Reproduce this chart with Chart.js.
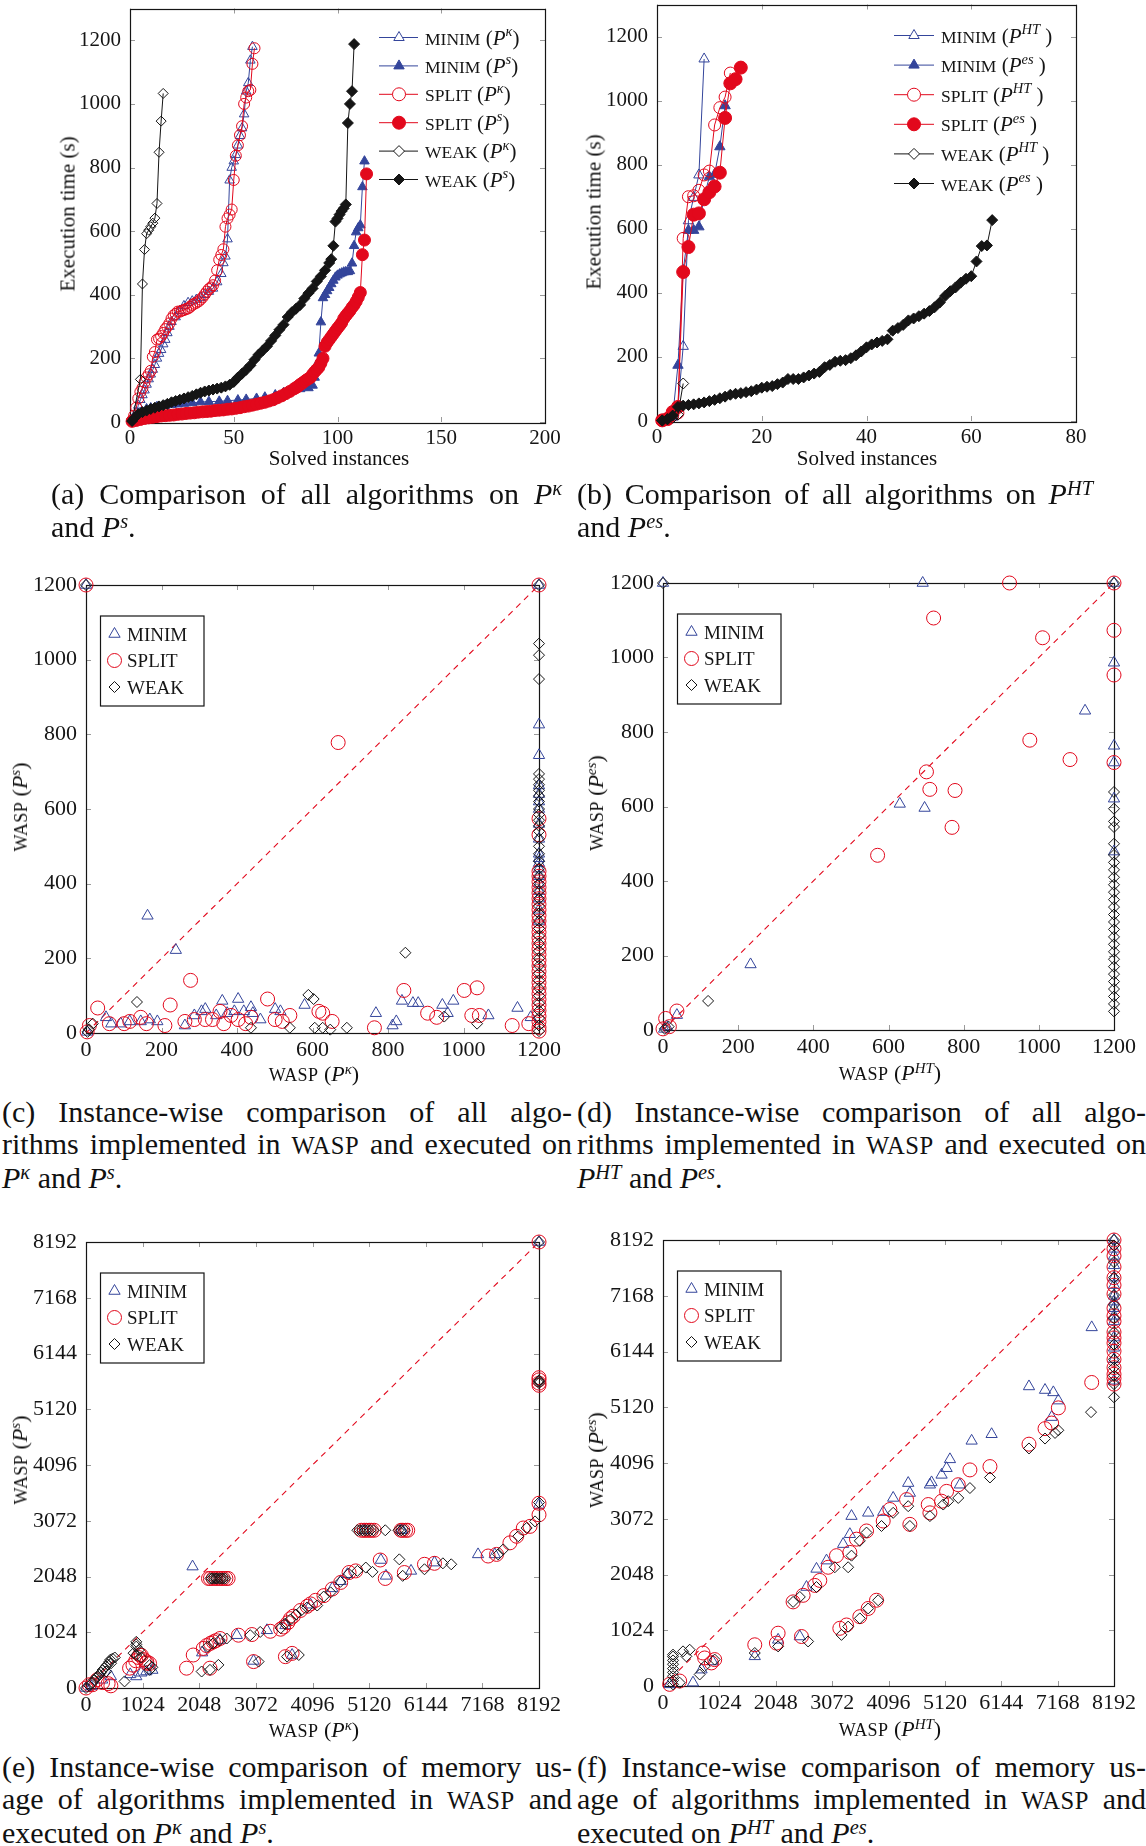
<!DOCTYPE html>
<html>
<head>
<meta charset="utf-8">
<script src="https://cdn.jsdelivr.net/npm/chart.js@4.4.0/dist/chart.umd.min.js"></script>
<style>
  html, body { margin: 0; padding: 0; background: #fff; }
  body { width: 1146px; height: 1846px; position: relative; overflow: hidden;
         font-family: "Liberation Serif", "Times New Roman", serif; color: #111; }
  .wrap { position: absolute; }
  .cap { position: absolute; font-size: 30px; line-height: 32px; }
  .cap div { text-align: justify; text-align-last: justify; }
  .cap div.end { text-align-last: left; }
  sup { font-size: 0.68em; line-height: 0; vertical-align: 0.45em; }
  .sc { font-size: 0.82em; letter-spacing: 0.02em; }
  .ax { position: absolute; white-space: nowrap; font-size: 21px; transform: translate(-50%, -50%); }
  .ax.rot { transform: translate(-50%, -50%) rotate(-90deg); }
  .ax.w { font-size: 22px; }
</style>
</head>
<body>

<div class="wrap" id="aw"><canvas id="a"></canvas></div>
<div class="wrap" id="bw"><canvas id="b"></canvas></div>
<div class="wrap" id="cw"><canvas id="c"></canvas></div>
<div class="wrap" id="dw"><canvas id="d"></canvas></div>
<div class="wrap" id="ew"><canvas id="e"></canvas></div>
<div class="wrap" id="fw"><canvas id="f"></canvas></div>

<!-- axis titles -->
<div class="ax rot" style="left:68px;top:214px">Execution time (s)</div>
<div class="ax" style="left:339px;top:458px">Solved instances</div>
<div class="ax rot" style="left:594px;top:212px">Execution time (s)</div>
<div class="ax" style="left:867px;top:458px">Solved instances</div>

<div class="ax w rot" style="left:20px;top:807px"><span class="sc">WASP</span> (<i>P</i><sup><i>s</i></sup>)</div>
<div class="ax w" style="left:314px;top:1074px"><span class="sc">WASP</span> (<i>P</i><sup><i>κ</i></sup>)</div>
<div class="ax w rot" style="left:596px;top:803px"><span class="sc">WASP</span> (<i>P</i><sup><i>es</i></sup>)</div>
<div class="ax w" style="left:890px;top:1073px"><span class="sc">WASP</span> (<i>P</i><sup><i>HT</i></sup>)</div>

<div class="ax w rot" style="left:20px;top:1460px"><span class="sc">WASP</span> (<i>P</i><sup><i>s</i></sup>)</div>
<div class="ax w" style="left:314px;top:1730px"><span class="sc">WASP</span> (<i>P</i><sup><i>κ</i></sup>)</div>
<div class="ax w rot" style="left:596px;top:1460px"><span class="sc">WASP</span> (<i>P</i><sup><i>es</i></sup>)</div>
<div class="ax w" style="left:890px;top:1729px"><span class="sc">WASP</span> (<i>P</i><sup><i>HT</i></sup>)</div>

<!-- captions -->
<div class="cap" style="left:51px;top:477px;width:511px;line-height:33px">
  <div>(a) Comparison of all algorithms on <i>P</i><sup><i>κ</i></sup></div>
  <div class="end">and <i>P</i><sup><i>s</i></sup>.</div>
</div>
<div class="cap" style="left:577px;top:477px;width:516px;line-height:33px">
  <div>(b) Comparison of all algorithms on <i>P</i><sup><i>HT</i></sup></div>
  <div class="end">and <i>P</i><sup><i>es</i></sup>.</div>
</div>
<div class="cap" style="left:2px;top:1096px;width:570px">
  <div>(c) Instance-wise comparison of all algo-</div>
  <div>rithms implemented in <span class="sc">WASP</span> and executed on</div>
  <div class="end"><i>P</i><sup><i>κ</i></sup> and <i>P</i><sup><i>s</i></sup>.</div>
</div>
<div class="cap" style="left:577px;top:1096px;width:569px">
  <div>(d) Instance-wise comparison of all algo-</div>
  <div>rithms implemented in <span class="sc">WASP</span> and executed on</div>
  <div class="end"><i>P</i><sup><i>HT</i></sup> and <i>P</i><sup><i>es</i></sup>.</div>
</div>
<div class="cap" style="left:2px;top:1751px;width:570px">
  <div>(e) Instance-wise comparison of memory us-</div>
  <div>age of algorithms implemented in <span class="sc">WASP</span> and</div>
  <div class="end">executed on <i>P</i><sup><i>κ</i></sup> and <i>P</i><sup><i>s</i></sup>.</div>
</div>
<div class="cap" style="left:577px;top:1751px;width:569px">
  <div>(f) Instance-wise comparison of memory us-</div>
  <div>age of algorithms implemented in <span class="sc">WASP</span> and</div>
  <div class="end">executed on <i>P</i><sup><i>HT</i></sup> and <i>P</i><sup><i>es</i></sup>.</div>
</div>

<script>
const BLUE = '#34459b', RED = '#e2081c', INK = '#151515';
const SERIF = '"Liberation Serif", "Times New Roman", serif';

// axis ranges and tick labels
const TIME_TOP = 1300, TIMEOUT = 1200, MEMOUT = 8192;
const aXTicks = [0, 50, 100, 150, 200];
const bXTicks = [0, 20, 40, 60, 80];
const timeTicks = [0, 200, 400, 600, 800, 1000, 1200];
const memTicks = [0, 1024, 2048, 3072, 4096, 5120, 6144, 7168, 8192];

// (a) solved instances vs execution time on P^k / P^s  -> [instance, seconds]
const aMinimK = [[1,8],[3,30],[4,52],[5,70],[6,85],[7,100],[8,118],[9,135],[10,150],[11,165],[12,180],[13,200],[14,215],[15,227],[16,245],[17,259],[18,280],[19,300],[20,315],[22,330],[24,350],[26,365],[28,375],[30,380],[32,385],[34,390],[36,400],[38,410],[40,420],[42,440],[44,466],[45,500],[46,521],[47,575],[48,760],[49,800],[50,820],[51,840],[52,870],[53,900],[54,924],[55,968],[56,1040],[57,1066],[58,1137],[59,1180]];
const aMinimS = [[1,3],[3,20],[5,30],[8,41],[10,44],[13,48],[17,52],[20,54],[23,56],[26,58],[30,60],[34,63],[38,64],[43,65],[47,67],[52,69],[56,71],[61,74],[65,78],[70,85],[74,92],[78,101],[82,104],[86,107],[88,115],[89,140],[90,180],[91,216],[92,314],[93,390],[94,400],[95,412],[96,422],[97,434],[98,445],[99,455],[100,461],[101,465],[102,468],[103,471],[104,472],[105,472],[106,475],[107,499],[108,554],[109,597],[110,610],[111,619],[112,739],[113,820]];
const aSplitK = [[1,5],[2,20],[3,45],[4,74],[5,95],[6,107],[7,125],[8,140],[9,150],[10,161],[11,205],[12,220],[13,259],[14,262],[15,270],[16,280],[17,292],[18,300],[19,310],[20,325],[21,335],[22,340],[23,347],[24,347],[25,350],[26,352],[27,355],[28,357],[29,362],[30,368],[31,372],[32,375],[33,379],[34,385],[35,392],[36,401],[37,410],[38,418],[39,423],[40,430],[41,445],[42,477],[43,510],[44,525],[45,543],[46,614],[47,640],[48,652],[49,668],[50,761],[51,837],[52,870],[53,902],[54,930],[55,1000],[56,1020],[57,1040],[58,1044],[59,1126],[60,1175]];
const aSplitS = [[1,2],[3,5],[5,8],[7,11],[9,13],[11,15],[13,17],[15,19],[17,20],[19,21],[21,22],[23,24],[25,25],[27,27],[29,28],[31,29],[33,31],[35,32],[37,33],[39,34],[41,36],[43,37],[45,38],[47,40],[49,41],[51,43],[53,45],[55,48],[57,50],[59,53],[61,56],[63,59],[65,62],[67,66],[69,70],[71,76],[73,82],[75,89],[77,96],[79,104],[80,108],[81,112],[82,118],[83,122],[84,127],[85,132],[86,136],[87,140],[88,150],[89,158],[90,165],[91,172],[92,185],[93,200],[94,238],[95,250],[96,259],[97,268],[98,277],[99,286],[100,295],[101,303],[102,312],[103,325],[104,334],[105,342],[106,350],[107,360],[108,368],[109,379],[110,392],[111,407],[112,526],[113,572],[114,780]];
const aWeakK = [[1,3],[5,134],[6,434],[7,542],[8,592],[9,603],[10,614],[11,625],[12,641],[13,687],[14,848],[15,946],[16,1033]];
const aWeakS = [[1,3],[2,12],[4,25],[6,31],[8,36],[10,41],[12,45],[14,49],[16,53],[18,57],[20,62],[22,66],[24,70],[26,74],[28,78],[30,82],[32,87],[34,92],[36,96],[38,99],[40,102],[42,105],[44,108],[46,112],[48,117],[50,126],[52,140],[54,152],[56,164],[58,178],[60,196],[62,212],[64,225],[66,238],[68,255],[70,272],[72,290],[74,306],[76,330],[78,345],[80,356],[82,368],[84,388],[86,405],[88,420],[90,442],[92,458],[94,477],[96,500],[97,512],[98,554],[99,630],[100,640],[101,652],[102,663],[103,672],[104,684],[105,940],[106,1000],[107,1040],[108,1188]];

// (b) solved instances vs execution time on P^HT / P^es
const bMinimHT = [[1,3],[2,6],[3,12],[4,45],[5,233],[6,625],[7,698],[8,768],[9,1130]];
const bMinimES = [[1,3],[2,6],[3,15],[4,174],[5,470],[6,595],[7,595],[8,606],[9,700],[10,762],[11,770],[12,856],[13,984]];
const bSplitHT = [[1,2],[2,8],[3,18],[4,25],[5,570],[6,700],[7,703],[8,720],[9,768],[10,780],[11,924],[12,978],[13,1011],[14,1086]];
const bSplitES = [[1,2],[2,6],[3,28],[4,44],[5,465],[6,543],[7,644],[8,648],[9,692],[10,714],[11,732],[12,775],[13,946],[14,1054],[15,1067],[16,1103]];
const bWeakHT = [[1,2],[2,5],[3,10],[4,20],[5,117]];
const bWeakES = [[1,1],[2,6],[3,17],[4,44],[5,48],[6,50],[7,52],[8,55],[9,58],[10,62],[11,66],[12,71],[13,76],[14,82],[15,85],[16,87],[17,90],[18,93],[19,98],[20,104],[21,107],[22,109],[23,115],[24,120],[25,131],[26,131],[27,131],[28,136],[29,142],[30,148],[31,153],[32,168],[33,175],[34,185],[35,188],[36,190],[37,196],[38,205],[39,217],[40,230],[41,239],[42,245],[43,250],[44,255],[45,282],[46,290],[47,300],[48,314],[49,320],[50,327],[51,335],[52,343],[53,355],[54,370],[55,390],[56,405],[57,417],[58,432],[59,444],[60,452],[61,498],[62,546],[63,548],[64,627]];

// (c) time on P^k vs time on P^s  -> [x, y]; *Edge = y values of timeouts on P^k
const cMinim = [[0,1200],[1200,1200],[3,3],[53,42],[67,25],[92,25],[116,31],[145,31],[163,314],[169,36],[189,31],[238,222],[262,20],[287,47],[306,58],[316,64],[345,47],[361,86],[374,53],[393,58],[403,91],[418,58],[437,69],[442,53],[462,36],[501,64],[515,58],[579,75],[768,53],[812,20],[822,31],[837,86],[866,80],[880,80],[944,75],[958,53],[973,86],[1066,47],[1143,67],[1178,42]];
const cMinimEdge = [826,744,663,640,620,600,560,520,480,468,455,440,420,400,380,360,330,300];
const cSplit = [[0,1200],[1200,1200],[3,3],[9,20],[31,67],[62,25],[101,25],[116,31],[145,42],[160,25],[209,20],[223,75],[262,31],[277,141],[287,36],[316,36],[335,36],[355,58],[365,25],[384,47],[403,36],[423,25],[437,42],[481,91],[501,36],[520,31],[540,47],[617,58],[627,53],[652,31],[668,778],[764,14],[842,114],[905,53],[929,42],[1002,114],[1022,47],[1036,121],[1042,47],[1129,20],[1173,25]];
const cSplitEdge = [574,531,433,420,405,390,375,360,345,330,315,300,285,270,255,240,225,210,195,180,165,150,135,120,105,90,75,60,45,30,15,5];
const cWeak = [[0,1200],[1200,1200],[4,3],[8,10],[18,25],[135,83],[437,14],[540,14],[589,102],[603,91],[606,14],[627,14],[647,9],[691,14],[846,215],[949,44],[1036,25]];
const cWeakEdge = [1043,1012,948,694,680,665,650,635,620,600,585,570,555,540,520,500,480,460,440,420,400,380,360,340,320,300,280,260,240,220,200,180,160,140,120,100,80,60,40,20,5];

// (d) time on P^HT vs time on P^es
const dMinim = [[0,1200],[691,1200],[1200,1200],[3,3],[10,9],[37,40],[233,176],[630,607],[696,596],[1123,857]];
const dMinimEdge = [986,763,718,621,479];
const dSplit = [[0,3],[7,31],[17,9],[37,51],[571,469],[701,693],[710,646],[720,1106],[769,544],[777,643],[922,1200],[976,778],[1010,1053],[1083,726],[1200,1200]];
const dSplitEdge = [1073,953,718];
const dWeak = [[0,1200],[1200,1200],[5,3],[15,9],[120,78]];
const dWeakEdge = [639,594,560,545,500,470,450,430,410,390,370,350,330,310,290,270,250,230,210,190,170,150,130,110,90,70,50];

// (e) memory on P^k vs memory on P^s (MB)
const eMinim = [[0,0],[93,30],[292,151],[450,212],[800,250],[909,212],[1000,280],[1091,303],[1200,330],[1927,2230],[2100,650],[2424,880],[2727,970],[3030,497],[3272,1060],[3606,1150],[3727,606],[4060,1530],[4454,1830],[4606,1960],[4727,2090],[5030,2897],[5333,2351],[5424,2060],[5696,2909],[5720,2897],[5878,2151],[6302,2303],[7090,2454],[7393,2454],[8192,3363],[8192,8192]];
const eSplit = [[0,0],[60,60],[120,60],[200,150],[300,100],[400,80],[450,40],[788,364],[850,420],[900,500],[950,560],[970,606],[1000,600],[1050,520],[1091,455],[1100,480],[1150,450],[1818,364],[1939,606],[2121,727],[2180,780],[2242,364],[2250,820],[2303,848],[2350,870],[2424,909],[2215,2012],[2250,2012],[2300,2012],[2350,2012],[2394,2012],[2440,2012],[2480,2012],[2530,2012],[2570,2012],[2757,970],[3000,982],[3030,485],[3333,1042],[3520,1080],[3575,1121],[3606,576],[3650,1200],[3697,1273],[3727,636],[3750,1320],[3878,1424],[4000,1500],[4060,1545],[4150,1610],[4303,1697],[4454,1818],[4606,1939],[4757,2121],[4878,2151],[4980,2897],[5030,2897],[5070,2897],[5120,2897],[5160,2897],[5212,2897],[5321,2351],[5412,2012],[5696,2897],[5730,2897],[5780,2897],[5818,2897],[5757,2121],[6121,2272],[6302,2290],[7272,2424],[7424,2454],[7666,2666],[7787,2787],[7908,2939],[8030,2969],[8192,3181],[8192,3394],[8192,5560],[8192,5600],[8192,5660],[8192,5700],[8192,8192]];
const eWeak = [[0,0],[60,40],[120,100],[150,150],[182,182],[200,200],[240,240],[270,280],[300,330],[330,360],[364,303],[360,400],[390,430],[420,480],[440,520],[454,455],[480,540],[520,560],[697,121],[860,640],[909,606],[909,760],[909,800],[909,848],[960,700],[1000,560],[1151,333],[1150,420],[1200,380],[2091,303],[2200,760],[2242,333],[2300,820],[2394,424],[2420,880],[2250,2012],[2280,2012],[2320,2012],[2350,2012],[2380,2012],[2420,2012],[2450,2012],[2480,2012],[2520,2012],[2545,909],[2970,970],[3121,485],[3151,1030],[3520,1100],[3600,1180],[3636,576],[3700,1260],[3800,1350],[3848,606],[3900,1430],[4000,1480],[4181,1515],[4300,1680],[4424,1757],[4600,1950],[4750,2100],[4908,2151],[4908,2897],[4950,2897],[5000,2897],[5050,2897],[5090,2897],[5140,2897],[5200,2897],[5060,2212],[5181,2133],[5412,2897],[5650,2897],[5700,2897],[5760,2897],[5666,2363],[5727,2060],[6121,2181],[6454,2290],[6605,2272],[7454,2454],[7545,2545],[7817,2787],[7969,2939],[8120,3060],[8192,3406],[8192,5600],[8192,5625],[8192,5650],[8192,8192]];

// (f) memory on P^HT vs memory on P^es (MB); *Edge = y values at the P^HT limit
const fMinim = [[121,30],[545,61],[700,300],[900,450],[1667,545],[2091,848],[2485,909],[2606,1818],[2788,2151],[2970,2303],[3272,2606],[3394,2788],[3424,3121],[3727,3181],[4000,3194],[4181,3454],[4454,3727],[4484,3545],[4848,3697],[4878,3739],[5060,3878],[5151,4000],[5212,4163],[5393,3697],[5606,4503],[5969,4624],[6648,5502],[6939,5436],[7090,5393],[7181,5242],[7060,4939],[7787,6587]];
const fMinimEdge = [8192,8030,7900,7727,7500,7363,7168,7060,6939,6800,6697,6400,6212,6000,5606];
const fSplit = [[121,30],[303,91],[727,606],[757,515],[879,424],[939,485],[1667,757],[2060,788],[2091,970],[2515,909],[3212,1060],[3333,1121],[3575,1273],[3727,1424],[3878,1575],[2363,1545],[2545,1666],[2757,1848],[2848,1939],[3000,2181],[3151,2394],[3394,2454],[3515,2697],[3697,2848],[4000,3030],[4121,3242],[4424,3424],[4484,2969],[4818,3333],[4848,3181],[5060,3394],[5151,3575],[5363,3697],[5575,3969],[5939,4030],[6648,4442],[6939,4727],[7060,4830],[7181,5109],[7787,5575]];
const fSplitEdge = [8192,8030,7900,7697,7500,7363,7200,6939,6800,6697,6500,6394,6300,6151,6000,5848,5727,5650,5545];
const fWeak = [[182,30],[182,100],[182,180],[182,250],[182,320],[182,400],[182,470],[182,540],[182,576],[364,636],[485,666],[424,545],[303,61],[666,212],[757,364],[939,485],[1667,606],[2091,727],[2636,818],[3242,939],[3363,1091],[3575,1242],[3727,1424],[3908,1575],[2363,1545],[2485,1636],[2788,1818],[3121,2181],[3363,2181],[3424,2394],[3575,2666],[3697,2818],[3969,2939],[4181,3181],[4454,3303],[4484,2939],[4848,3121],[5090,3333],[5181,3394],[5363,3454],[5575,3636],[5939,3830],[6648,4363],[6939,4545],[7121,4648],[7181,4697],[7775,5030]];
const fWeakEdge = [8192,8090,7787,7500,7181,7000,6757,6500,6272,6000,5848,5700,5545,5303];

Chart.defaults.font.family = SERIF;
Chart.defaults.color = INK;

const pts = arr => arr.map(([x, y]) => ({x, y}));
const edge = (vals, at) => vals.map(y => ({x: at, y}));

function series(data, style, color, filled, radius, line) {
  return {
    data,
    showLine: !!line,
    borderColor: color,
    borderWidth: 1,
    pointStyle: style,
    pointRadius: radius,
    pointHoverRadius: radius,
    pointBorderWidth: 1,
    pointBorderColor: color,
    pointBackgroundColor: filled ? color : 'rgba(0,0,0,0)',
    clip: false
  };
}

function diagonal(max) {
  return {
    data: [{x: 0, y: 0}, {x: max, y: max}],
    showLine: true, borderColor: RED, borderWidth: 1.1, borderDash: [6, 5],
    pointRadius: 0, clip: false
  };
}

// rich text: list of {t, s(size), i(italic), up}
function drawRich(ctx, x, y, parts) {
  let cx = x;
  ctx.fillStyle = INK;
  ctx.textBaseline = 'alphabetic';
  ctx.textAlign = 'left';
  for (const p of parts) {
    ctx.font = (p.i ? 'italic ' : '') + p.s + 'px ' + SERIF;
    ctx.fillText(p.t, cx, y - (p.up || 0));
    cx += ctx.measureText(p.t).width;
  }
}

const lab = (name, sup) => [
  {t: name, s: 17.5}, {t: ' (', s: 21}, {t: 'P', s: 21, i: true},
  {t: sup, s: 14.5, i: true, up: 8.5}, {t: sup.length > 1 ? ' )' : ')', s: 21}
];
const sc = name => [{t: name, s: 19}];

// legend layouts per canvas (relative to chart area)
const keys = {};

const framePlugin = {
  id: 'frame',
  beforeDatasetsDraw(chart) {
    const {ctx, chartArea: a} = chart;
    const sx = chart.scales.x, sy = chart.scales.y;
    ctx.save();
    ctx.lineWidth = 1;
    ctx.strokeStyle = '#9a9a9a';
    ctx.beginPath();
    sx.ticks.forEach(t => {
      const p = Math.round(sx.getPixelForValue(t.value)) + 0.5;
      ctx.moveTo(p, a.bottom); ctx.lineTo(p, a.bottom - 5);
      ctx.moveTo(p, a.top); ctx.lineTo(p, a.top + 5);
    });
    sy.ticks.forEach(t => {
      const p = Math.round(sy.getPixelForValue(t.value)) + 0.5;
      ctx.moveTo(a.left, p); ctx.lineTo(a.left + 5, p);
      ctx.moveTo(a.right, p); ctx.lineTo(a.right - 5, p);
    });
    ctx.stroke();
    ctx.strokeStyle = INK;
    ctx.lineWidth = 1.2;
    ctx.strokeRect(Math.round(a.left) + 0.5, Math.round(a.top) + 0.5,
                   Math.round(a.right - a.left), Math.round(a.bottom - a.top));
    ctx.restore();
  }
};

const keyPlugin = {
  id: 'key',
  afterDatasetsDraw(chart) {
    const k = keys[chart.canvas.id];
    if (!k) return;
    const {ctx, chartArea: a} = chart;
    ctx.save();
    if (k.frame) {
      const [x0, y0, x1, y1] = k.frame;
      ctx.fillStyle = '#fff';
      ctx.fillRect(a.left + x0, a.top + y0, x1 - x0, y1 - y0);
      ctx.strokeStyle = INK;
      ctx.lineWidth = 1.2;
      ctx.strokeRect(a.left + x0, a.top + y0, x1 - x0, y1 - y0);
    }
    k.rows.forEach((r, i) => {
      const y = a.top + k.y0 + i * k.dy;
      if (k.line) {
        ctx.strokeStyle = r.color;
        ctx.lineWidth = 1;
        ctx.beginPath();
        ctx.moveTo(a.left + k.line[0], y);
        ctx.lineTo(a.left + k.line[1], y);
        ctx.stroke();
      }
      ctx.strokeStyle = r.color;
      ctx.fillStyle = r.filled ? r.color : '#fff';
      ctx.lineWidth = 1;
      Chart.helpers.drawPoint(ctx, {pointStyle: r.style, radius: r.radius, rotation: 0, borderWidth: 1},
                              a.left + k.mx, y);
      drawRich(ctx, a.left + k.tx, y + k.base, r.text);
    });
    ctx.restore();
  }
};

Chart.register(framePlugin, keyPlugin);

function plot(id, box, xMax, yMax, xTicks, yTicks, fontSize, datasets) {
  const yW = 80, xH = 60, padT = 16, padR = 30;
  const w = document.getElementById(id + 'w');
  w.style.left = (box.L - yW) + 'px';
  w.style.top = (box.T - padT) + 'px';
  w.style.width = (box.R - box.L + yW + padR) + 'px';
  w.style.height = (box.B - box.T + padT + xH) + 'px';
  const tickFont = {size: fontSize, lineHeight: 1};
  return new Chart(document.getElementById(id), {
    type: 'scatter',
    data: {datasets},
    options: {
      responsive: true,
      maintainAspectRatio: false,
      animation: false,
      events: [],
      layout: {padding: {top: padT, right: padR, left: 0, bottom: 0}},
      plugins: {legend: {display: false}, tooltip: {enabled: false}},
      scales: {
        x: {
          type: 'linear', min: 0, max: xMax,
          grid: {display: false, drawTicks: false},
          border: {display: false},
          ticks: {padding: 6, font: tickFont, color: INK, autoSkip: false, maxRotation: 0,
                  callback: v => String(v)},
          afterBuildTicks: s => { s.ticks = xTicks.map(v => ({value: v})); },
          afterFit: s => { s.height = xH; }
        },
        y: {
          type: 'linear', min: 0, max: yMax,
          grid: {display: false, drawTicks: false},
          border: {display: false},
          ticks: {padding: 9, font: tickFont, color: INK, autoSkip: false,
                  callback: v => String(v)},
          afterBuildTicks: s => { s.ticks = yTicks.map(v => ({value: v})); },
          afterFit: s => { s.width = yW; }
        }
      }
    }
  });
}

// ---- (a)
keys.a = {
  y0: 29, dy: 28.4, line: [249, 288], mx: 269, tx: 295, base: 7,
  rows: [
    {style: 'triangle', color: BLUE, filled: false, radius: 6, text: lab('MINIM', 'κ')},
    {style: 'triangle', color: BLUE, filled: true, radius: 6, text: lab('MINIM', 's')},
    {style: 'circle', color: RED, filled: false, radius: 6.5, text: lab('SPLIT', 'κ')},
    {style: 'circle', color: RED, filled: true, radius: 6.5, text: lab('SPLIT', 's')},
    {style: 'rectRot', color: INK, filled: false, radius: 5.5, text: lab('WEAK', 'κ')},
    {style: 'rectRot', color: INK, filled: true, radius: 5.5, text: lab('WEAK', 's')}
  ]
};
plot('a', {L: 130, T: 5, R: 545, B: 422}, 200, TIME_TOP, aXTicks, timeTicks, 21, [
  series(pts(aWeakS), 'rectRot', INK, true, 5.5, true),
  series(pts(aWeakK), 'rectRot', INK, false, 5, true),
  series(pts(aSplitS), 'circle', RED, true, 6, true),
  series(pts(aSplitK), 'circle', RED, false, 5.5, true),
  series(pts(aMinimS), 'triangle', BLUE, true, 5.5, true),
  series(pts(aMinimK), 'triangle', BLUE, false, 5.5, true)
]);

// ---- (b)
keys.b = {
  y0: 31, dy: 29.6, line: [237, 277], mx: 257, tx: 284, base: 7,
  rows: [
    {style: 'triangle', color: BLUE, filled: false, radius: 6, text: lab('MINIM', 'HT')},
    {style: 'triangle', color: BLUE, filled: true, radius: 6, text: lab('MINIM', 'es')},
    {style: 'circle', color: RED, filled: false, radius: 6.5, text: lab('SPLIT', 'HT')},
    {style: 'circle', color: RED, filled: true, radius: 6.5, text: lab('SPLIT', 'es')},
    {style: 'rectRot', color: INK, filled: false, radius: 5.5, text: lab('WEAK', 'HT')},
    {style: 'rectRot', color: INK, filled: true, radius: 5.5, text: lab('WEAK', 'es')}
  ]
};
plot('b', {L: 657, T: 1, R: 1076, B: 421}, 80, TIME_TOP, bXTicks, timeTicks, 21, [
  series(pts(bWeakES), 'rectRot', INK, true, 5.5, true),
  series(pts(bWeakHT), 'rectRot', INK, false, 5.5, true),
  series(pts(bSplitES), 'circle', RED, true, 6.5, true),
  series(pts(bSplitHT), 'circle', RED, false, 6, true),
  series(pts(bMinimES), 'triangle', BLUE, true, 6, true),
  series(pts(bMinimHT), 'triangle', BLUE, false, 6, true)
]);

// ---- boxed legends for the instance-wise plots
const boxKey = () => ({
  frame: [14.5, 31, 118, 121], y0: 49, dy: 26.5, mx: 28.5, tx: 41, base: 6.5,
  rows: [
    {style: 'triangle', color: BLUE, filled: false, radius: 6.5, text: sc('MINIM')},
    {style: 'circle', color: RED, filled: false, radius: 7, text: sc('SPLIT')},
    {style: 'rectRot', color: INK, filled: false, radius: 5.5, text: sc('WEAK')}
  ]
});
keys.c = boxKey(); keys.d = boxKey(); keys.e = boxKey(); keys.f = boxKey();

plot('c', {L: 86, T: 581, R: 539, B: 1033}, TIMEOUT, TIMEOUT, timeTicks, timeTicks, 22, [
  series(pts(cWeak).concat(edge(cWeakEdge, TIMEOUT)), 'rectRot', INK, false, 5.5),
  series(pts(cSplit).concat(edge(cSplitEdge, TIMEOUT)), 'circle', RED, false, 7),
  series(pts(cMinim).concat(edge(cMinimEdge, TIMEOUT)), 'triangle', BLUE, false, 6.5),
  diagonal(TIMEOUT)
]);

plot('d', {L: 663, T: 579, R: 1114, B: 1030}, TIMEOUT, TIMEOUT, timeTicks, timeTicks, 22, [
  series(pts(dWeak).concat(edge(dWeakEdge, TIMEOUT)), 'rectRot', INK, false, 5.5),
  series(pts(dSplit).concat(edge(dSplitEdge, TIMEOUT)), 'circle', RED, false, 7),
  series(pts(dMinim).concat(edge(dMinimEdge, TIMEOUT)), 'triangle', BLUE, false, 6.5),
  diagonal(TIMEOUT)
]);

plot('e', {L: 86, T: 1238, R: 539, B: 1688}, MEMOUT, MEMOUT, memTicks, memTicks, 22, [
  series(pts(eWeak), 'rectRot', INK, false, 5.5),
  series(pts(eSplit), 'circle', RED, false, 7),
  series(pts(eMinim), 'triangle', BLUE, false, 6.5),
  diagonal(MEMOUT)
]);

plot('f', {L: 663, T: 1236, R: 1114, B: 1686}, MEMOUT, MEMOUT, memTicks, memTicks, 22, [
  series(pts(fWeak).concat(edge(fWeakEdge, MEMOUT)), 'rectRot', INK, false, 5.5),
  series(pts(fSplit).concat(edge(fSplitEdge, MEMOUT)), 'circle', RED, false, 7),
  series(pts(fMinim).concat(edge(fMinimEdge, MEMOUT)), 'triangle', BLUE, false, 6.5),
  diagonal(MEMOUT)
]);
</script>
</body>
</html>
